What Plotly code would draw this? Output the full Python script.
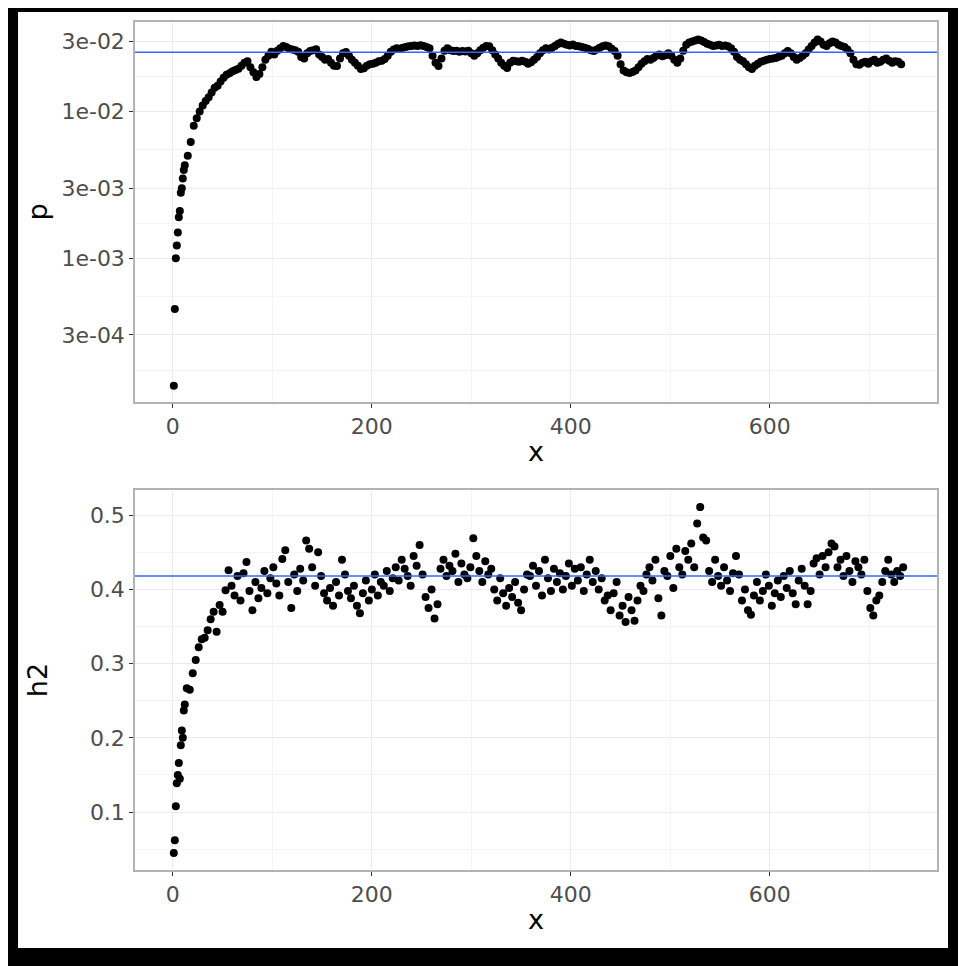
import plotly.graph_objects as go

# ---- data: top panel (p, log scale) ----
p_early_x = [1, 2, 3, 4, 5, 6, 7, 8, 9, 10, 11, 12]
p_early = [0.000135, 0.00045, 0.00100, 0.00122, 0.00150, 0.00190, 0.00210, 0.00280, 0.00300, 0.00350, 0.00400, 0.00430]
p_late = [
    0.0050, 0.0062, 0.0080, 0.0090, 0.0100, 0.0110, 0.0118, 0.0125, 0.0135, 0.0145,
    0.0150, 0.0160, 0.0170, 0.0178, 0.0182, 0.0188, 0.0192, 0.0196, 0.0205, 0.0215,
    0.0220, 0.0200, 0.0185, 0.0172, 0.0180, 0.0200, 0.0225, 0.0240, 0.0255, 0.0245,
    0.0260, 0.0270, 0.0280, 0.0275, 0.0268, 0.0265, 0.0262, 0.0255, 0.0235, 0.0230,
    0.0250, 0.0258, 0.0262, 0.0266, 0.0245, 0.0235, 0.0225, 0.0228, 0.0215, 0.0205,
    0.0204, 0.0230, 0.0250, 0.0254, 0.0240, 0.0225, 0.0215, 0.0205, 0.0195, 0.0197,
    0.0205, 0.0210, 0.0212, 0.0215, 0.0220, 0.0222, 0.0228, 0.0240, 0.0255, 0.0265,
    0.0270, 0.0268, 0.0272, 0.0275, 0.0278, 0.0280, 0.0282, 0.0280, 0.0283, 0.0280,
    0.0275, 0.0270, 0.0240, 0.0215, 0.0204, 0.0230, 0.0260, 0.0270, 0.0262, 0.0258,
    0.0260, 0.0255, 0.0258, 0.0256, 0.0260, 0.0250, 0.0240, 0.0250, 0.0262, 0.0272,
    0.0280, 0.0278, 0.0262, 0.0245, 0.0230, 0.0215, 0.0205, 0.0198, 0.0215, 0.0222,
    0.0220, 0.0218, 0.0222, 0.0218, 0.0212, 0.0217, 0.0225, 0.0235, 0.0250, 0.0262,
    0.0270, 0.0265, 0.0272, 0.0280, 0.0288, 0.0295, 0.0290, 0.0285, 0.0282, 0.0286,
    0.0280, 0.0278, 0.0275, 0.0272, 0.0268, 0.0262, 0.0258, 0.0265, 0.0272, 0.0278,
    0.0282, 0.0278, 0.0268, 0.0258, 0.0240, 0.0210, 0.0190, 0.0185, 0.0183, 0.0186,
    0.0190, 0.0200, 0.0212, 0.0220, 0.0228, 0.0225, 0.0232, 0.0240, 0.0245, 0.0238,
    0.0242, 0.0250, 0.0240, 0.0225, 0.0215, 0.0230, 0.0260, 0.0285, 0.0295, 0.0300,
    0.0305, 0.0310, 0.0305, 0.0298, 0.0290, 0.0285, 0.0280, 0.0282, 0.0285, 0.0280,
    0.0282, 0.0278, 0.0270, 0.0255, 0.0235, 0.0225, 0.0220, 0.0210, 0.0200, 0.0195,
    0.0205, 0.0212, 0.0218, 0.0222, 0.0225, 0.0228, 0.0230, 0.0232, 0.0236, 0.0240,
    0.0250, 0.0258, 0.0250, 0.0235, 0.0225, 0.0232, 0.0240, 0.0250, 0.0265, 0.0280,
    0.0295, 0.0310, 0.0300, 0.0285, 0.0280, 0.0292, 0.0300, 0.0295, 0.0285, 0.0280,
    0.0275, 0.0265, 0.0250, 0.0225, 0.0210, 0.0208, 0.0215, 0.0218, 0.0212, 0.0220,
    0.0225, 0.0215, 0.0218, 0.0225, 0.0230, 0.0222, 0.0215, 0.0220, 0.0218, 0.0210,
]
p_late_x = list(range(15, 15 + 3 * len(p_late), 3))
p_ref = 0.0253

# ---- data: bottom panel (h2) ----
h_early_x = [1, 2, 3, 4, 5, 6, 7, 8, 9, 10, 11, 12]
h_early = [0.045, 0.062, 0.108, 0.139, 0.150, 0.166, 0.145, 0.190, 0.210, 0.200, 0.237, 0.245]
h_late = [
    0.267, 0.265, 0.287, 0.305, 0.322, 0.333, 0.335, 0.345, 0.360, 0.370, 0.343, 0.379, 0.370, 0.399, 0.426,
    0.405, 0.392, 0.418, 0.385, 0.422, 0.437, 0.398, 0.372, 0.410, 0.388,
    0.402, 0.425, 0.395, 0.415, 0.430, 0.408, 0.392, 0.441, 0.453, 0.410,
    0.375, 0.420, 0.398, 0.428, 0.412, 0.466, 0.455, 0.430, 0.405, 0.450,
    0.418, 0.395, 0.385, 0.402, 0.378, 0.410, 0.392, 0.440, 0.420, 0.398,
    0.388, 0.405, 0.378, 0.368, 0.395, 0.412, 0.385, 0.400, 0.420, 0.392,
    0.410, 0.405, 0.425, 0.398, 0.415, 0.430, 0.412, 0.440, 0.428, 0.418,
    0.405, 0.445, 0.432, 0.460, 0.420, 0.390, 0.375, 0.400, 0.361, 0.380,
    0.428, 0.440, 0.418, 0.432, 0.425, 0.448, 0.410, 0.435, 0.420, 0.415,
    0.430, 0.469, 0.445, 0.425, 0.410, 0.438, 0.420, 0.428, 0.400, 0.385,
    0.415, 0.395, 0.378, 0.402, 0.390, 0.410, 0.382, 0.372, 0.400, 0.420,
    0.418, 0.432, 0.405, 0.425, 0.392, 0.440, 0.415, 0.398, 0.428, 0.410,
    0.422, 0.400, 0.418, 0.435, 0.405, 0.428, 0.412, 0.430, 0.398, 0.420,
    0.440, 0.410, 0.425, 0.400, 0.415, 0.385, 0.392, 0.372, 0.395, 0.410,
    0.365, 0.378, 0.356, 0.390, 0.372, 0.358, 0.385, 0.405, 0.398, 0.420,
    0.430, 0.412, 0.440, 0.388, 0.365, 0.425, 0.418, 0.445, 0.402, 0.455,
    0.430, 0.420, 0.452, 0.440, 0.462, 0.430, 0.489, 0.511, 0.470, 0.466,
    0.425, 0.410, 0.440, 0.418, 0.405, 0.430, 0.412, 0.398, 0.422, 0.445,
    0.420, 0.385, 0.400, 0.372, 0.366, 0.392, 0.410, 0.385, 0.398, 0.420,
    0.405, 0.378, 0.395, 0.412, 0.390, 0.418, 0.402, 0.425, 0.395, 0.380,
    0.412, 0.428, 0.405, 0.380, 0.398, 0.435, 0.442, 0.420, 0.445, 0.430,
    0.450, 0.462, 0.458, 0.430, 0.440, 0.418, 0.445, 0.425, 0.410, 0.438,
    0.430, 0.420, 0.440, 0.398, 0.375, 0.365, 0.385, 0.392, 0.410, 0.425,
    0.440, 0.420, 0.410, 0.425, 0.418, 0.430,
]
h_late_x = list(range(14, 14 + 3 * len(h_late), 3))
h_ref = 0.418

p_ticks = [3e-4, 1e-3, 3e-3, 1e-2, 3e-2]
p_ticktext = ["3e-04", "1e-03", "3e-03", "1e-02", "3e-02"]
p_minor = [1.73e-4, 5.48e-4, 1.73e-3, 5.48e-3, 1.73e-2]
x_ticks = [0, 200, 400, 600]
h_ticks = [0.1, 0.2, 0.3, 0.4, 0.5]

FONT = "DejaVu Sans"
fig = go.Figure()
mk = dict(color="black", size=8)
fig.add_trace(go.Scatter(x=p_early_x + p_late_x, y=p_early + p_late, mode="markers",
                         marker=mk, xaxis="x", yaxis="y", showlegend=False))
fig.add_trace(go.Scatter(x=h_early_x + h_late_x, y=h_early + h_late, mode="markers",
                         marker=mk, xaxis="x2", yaxis="y2", showlegend=False))

blue = "#3366FF"
fig.add_shape(type="line", xref="x domain", yref="y", x0=0, x1=1, y0=p_ref, y1=p_ref,
              line=dict(color=blue, width=1.5))
fig.add_shape(type="line", xref="x2 domain", yref="y2", x0=0, x1=1, y0=h_ref, y1=h_ref,
              line=dict(color=blue, width=1.5))
fig.add_shape(type="rect", xref="paper", yref="paper", x0=0.0104, x1=0.9731, y0=0.0269, y1=0.9959,
              fillcolor="white", line_width=0, layer="below")

tickfont = dict(family=FONT, size=22, color="#4D4D4D")
titlefont = dict(family=FONT, size=27, color="black")
common_x = dict(range=[-38, 768], tickvals=x_ticks, showgrid=True, gridcolor="#EBEBEB",
                minor=dict(tickvals=[100, 300, 500, 700], showgrid=True, gridcolor="#F4F4F4", ticks=""),
                ticks="outside", ticklen=4, tickcolor="#333333", tickfont=tickfont,
                showline=True, mirror=True, linecolor="#B3B3B3", linewidth=1.5, zeroline=False,
                title=dict(text="x", font=titlefont, standoff=4))
fig.update_layout(
    width=966, height=966, margin=dict(l=0, r=0, t=0, b=0),
    paper_bgcolor="black", plot_bgcolor="white",
    xaxis=dict(domain=[0.1315, 0.9617], anchor="y", **common_x),
    xaxis2=dict(domain=[0.1315, 0.9617], anchor="y2", **common_x),
    yaxis=dict(domain=[0.5921, 0.9855], anchor="x", type="log", range=[-3.98, -1.39],
               tickvals=p_ticks, ticktext=p_ticktext, showgrid=True, gridcolor="#EBEBEB",
               minor=dict(tickvals=p_minor, showgrid=True, gridcolor="#F4F4F4", ticks=""),
               ticks="outside", ticklen=4, tickcolor="#333333", tickfont=tickfont,
               showline=True, mirror=True, linecolor="#B3B3B3", linewidth=1.5, zeroline=False,
               title=dict(text="p", font=titlefont, standoff=6)),
    yaxis2=dict(domain=[0.1077, 0.5010], anchor="x2", range=[0.022, 0.534],
                tickvals=h_ticks, tickformat=".1f", showgrid=True, gridcolor="#EBEBEB",
                minor=dict(tickvals=[0.05, 0.15, 0.25, 0.35, 0.45], showgrid=True, gridcolor="#F4F4F4", ticks=""),
                ticks="outside", ticklen=4, tickcolor="#333333", tickfont=tickfont,
                showline=True, mirror=True, linecolor="#B3B3B3", linewidth=1.5, zeroline=False,
                title=dict(text="h2", font=titlefont, standoff=34)),
)
fig.write_html("out.html")
